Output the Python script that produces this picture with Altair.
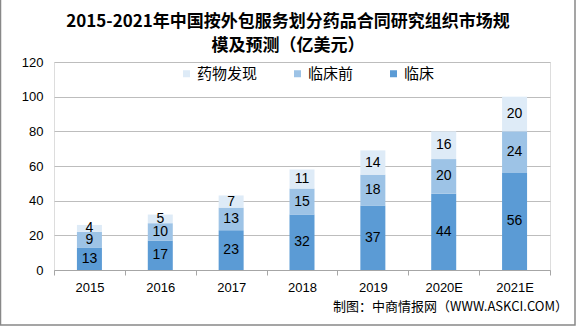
import altair as alt
import pandas as pd

# Market size by outsourcing segment (100M USD)
years = ["2015", "2016", "2017", "2018", "2019", "2020E", "2021E"]
clinical = [13, 17, 23, 32, 37, 44, 56]
preclinical = [9, 10, 13, 15, 18, 20, 24]
discovery = [4, 5, 7, 11, 14, 16, 20]

segments = ["药物发现", "临床前", "临床"]
seg_colors = ["#DEEBF7", "#9DC3E6", "#5B9BD5"]
stack_rank = {"临床": 0, "临床前": 1, "药物发现": 2}
y_ticks = [0, 20, 40, 60, 80, 100, 120]

title_lines = ["2015-2021年中国按外包服务划分药品合同研究组织市场规", "模及预测（亿美元）"]
source_note = "制图：中商情报网（WWW.ASKCI.COM）"

rows = []
for i, y in enumerate(years):
    for seg, vals in (("临床", clinical), ("临床前", preclinical), ("药物发现", discovery)):
        rows.append({"year": y, "segment": seg, "value": vals[i], "rank": stack_rank[seg]})
df = pd.DataFrame(rows)

W, H = 496, 208
PAD = {"left": 54, "top": 62, "right": 26, "bottom": 56}
CJK = "Noto Sans CJK SC"
NUM = "Liberation Sans"

x_scale = alt.Scale(paddingInner=0, paddingOuter=0)
x_axis = alt.Axis(
    title=None,
    labelAngle=0,
    labelFont=NUM,
    labelFontSize=13,
    labelColor="#000000",
    labelPadding=6,
    tickBand="extent",
    tickSize=5,
    tickColor="#A6A6A6",
    domainColor="#A6A6A6",
    grid=False,
)

y_scale = alt.Scale(domain=[0, 120])
y_axis = alt.Axis(
    title=None,
    values=y_ticks,
    labelOverlap=False,
    domain=False,
    ticks=False,
    labelFont=NUM,
    labelFontSize=13,
    labelColor="#000000",
    labelPadding=11,
    gridColor="#BDBDBD",
)

base = alt.Chart(df).transform_stack(
    stack="value", groupby=["year"], sort=[alt.SortField("rank")], as_=["v0", "v1"]
).transform_calculate(mid="(datum.v0 + datum.v1) / 2")

bars = base.mark_bar(size=25).encode(
    x=alt.X("year:N", sort=years, scale=x_scale, axis=x_axis),
    y=alt.Y("v0:Q", scale=y_scale, axis=y_axis),
    y2="v1:Q",
    color=alt.Color(
        "segment:N",
        sort=segments,
        scale=alt.Scale(domain=segments, range=seg_colors),
        legend=alt.Legend(
            title=None,
            orient="none",
            direction="horizontal",
            legendX=125,
            legendY=4,
            padding=0,
            symbolType="square",
            symbolSize=49,
            symbolStrokeWidth=0,
            labelFont=CJK,
            labelFontSize=15,
            labelColor="#000000",
            labelOffset=3,
            columnPadding=32,
        ),
    ),
)

labels = base.mark_text(font=NUM, fontSize=14, color="#000000", baseline="middle").encode(
    x=alt.X("year:N", sort=years, scale=x_scale, axis=x_axis),
    y=alt.Y("mid:Q", scale=y_scale, axis=y_axis),
    text=alt.Text("value:Q"),
)

# two-line heading centred over the figure
def heading_line(text, y_px):
    return alt.Chart(pd.DataFrame({"t": [text]})).mark_text(
        font=CJK, fontSize=17, fontWeight="bold", color="#000000", align="center", baseline="middle"
    ).encode(x=alt.value(234), y=alt.value(y_px), text="t:N")

heading1 = heading_line(title_lines[0], -40)
heading2 = heading_line(title_lines[1], -16)

note = alt.Chart(pd.DataFrame({"t": [source_note]})).mark_text(
    font=CJK, fontSize=13, color="#000000", align="right", baseline="middle"
).encode(x=alt.value(W + 18), y=alt.value(H + 37), text="t:N")

# frame around the figure (left, bottom and right edges)
edge_df = pd.DataFrame({"px": [-53.5, -53.5, W + 25, W + 25], "py": [-62, H + 55, H + 55, -62], "o": [0, 1, 2, 3]})
frame = alt.Chart(edge_df).mark_line(color="#888888", strokeWidth=1.5, clip=False).encode(
    x=alt.X("px:Q", scale=None),
    y=alt.Y("py:Q", scale=None),
    order="o:Q",
)

chart = alt.layer(bars, labels, heading1, heading2, note, frame).properties(
    width=W,
    height=H,
    padding=PAD,
    autosize=alt.AutoSizeParams(type="none"),
).configure_view(stroke=None).configure(background="#FFFFFF")

chart.save("out.html", embed_options={"renderer": "svg", "actions": False})
